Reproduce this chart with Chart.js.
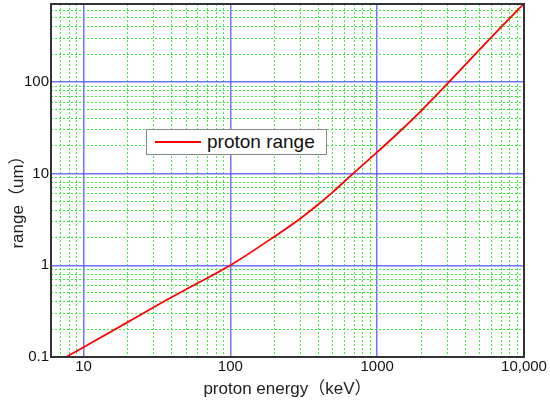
<!DOCTYPE html>
<html>
<head>
<meta charset="utf-8">
<script src="https://cdn.jsdelivr.net/npm/chart.js@4.4.1/dist/chart.umd.min.js"></script>
<style>
  body { margin: 0; background: #fff; }
  #wrap { position: relative; width: 550px; height: 403px; }
  #legend {
    position: absolute; left: 146px; top: 129px; width: 179px; height: 24px;
    border: 1px solid #888; background: #fff; box-sizing: content-box;
    font-family: "Liberation Sans", Arial, sans-serif; font-size: 19px; color: #111;
    display: flex; align-items: center;
  }
  #legend .swatch { display: inline-block; width: 46px; height: 0; border-top: 2px solid #ff0000; margin: 0 6px 0 8px; }
</style>
</head>
<body>
<div id="wrap">
  <canvas id="chart"></canvas>
  <div id="legend"><span class="swatch"></span><span>proton range</span></div>
</div>
<script>
// proton energy (keV) vs range (um)
var energy = [7.6, 10, 20, 40, 60, 100, 200, 300, 400, 500, 700, 1000, 1400, 2000, 3000, 5000, 7000, 10000];
var range  = [0.1, 0.128, 0.24, 0.45, 0.64, 1.0, 2.06, 3.24, 4.65, 6.32, 10.3, 17.1, 28.0, 48.6, 94.8, 226, 397, 713];

var xMin = 6, xMax = 10000;
var yMin = 0.1, yMax = 705;

// grid positions
var xGrid = [6, 7, 8, 9, 10, 20, 30, 40, 50, 60, 70, 80, 90, 100, 200, 300, 400, 500, 600, 700, 800, 900,
             1000, 2000, 3000, 4000, 5000, 6000, 7000, 8000, 9000, 10000];
var yGrid = [0.1, 0.2, 0.3, 0.4, 0.5, 0.6, 0.7, 0.8, 0.9, 1, 2, 3, 4, 5, 6, 7, 8, 9,
             10, 20, 30, 40, 50, 60, 70, 80, 90, 100, 200, 300, 400, 500, 600, 700];

// labelled ticks
var xTickValues = [10, 100, 1000, 10000];
var xTickLabels = ['10', '100', '1000', '10,000'];
var yTickValues = [0.1, 1, 10, 100];
var yTickLabels = ['0.1', '1', '10', '100'];

var FONT = '"Liberation Sans", Arial, "Noto Sans CJK SC", sans-serif';

function labelFor(values, labels, v) {
  for (var i = 0; i < values.length; i++) {
    if (Math.abs(values[i] - v) < 1e-9 * Math.max(1, v)) return labels[i];
  }
  return '';
}
function isDecade(v) {
  var l = Math.log10(v);
  return Math.abs(l - Math.round(l)) < 1e-6;
}
function gridColor(ctx) {
  if (!ctx.tick) return '#00e000';
  return isDecade(ctx.tick.value) ? 'rgba(90,90,255,0.85)' : 'rgba(40,235,40,0.9)';
}
function gridWidth(ctx) {
  if (!ctx.tick) return 1;
  return isDecade(ctx.tick.value) ? 1.5 : 1;
}
function gridDash(ctx) {
  if (!ctx.tick) return [];
  return isDecade(ctx.tick.value) ? [] : [2, 2];
}

var points = energy.map(function (e, i) { return { x: e, y: range[i] }; });

var framePlugin = {
  id: 'frame',
  afterDatasetsDraw: function (chart) {
    var a = chart.chartArea, c = chart.ctx;
    c.save();
    c.strokeStyle = '#333';
    c.lineWidth = 2;
    c.strokeRect(a.left, a.top, a.right - a.left, a.bottom - a.top);
    c.restore();
  }
};

var yTitlePlugin = {
  id: 'yTitle',
  afterDraw: function (chart) {
    var c = chart.ctx;
    c.save();
    c.translate(18, 198);
    c.rotate(-Math.PI / 2);
    c.font = '17px ' + FONT;
    c.fillStyle = '#222';
    c.textAlign = 'center';
    c.textBaseline = 'middle';
    c.fillText('range（um）', 0, 0);
    c.restore();
  }
};

new Chart(document.getElementById('chart'), {
  type: 'line',
  data: {
    datasets: [{
      label: 'proton range',
      data: points,
      borderColor: '#ff0000',
      borderWidth: 1.8,
      pointRadius: 0,
      fill: false,
      cubicInterpolationMode: 'monotone'
    }]
  },
  options: {
    responsive: true,
    maintainAspectRatio: false,
    animation: false,
    layout: { padding: { top: 4, right: 26, left: 0, bottom: 0 } },
    plugins: {
      legend: { display: false },
      tooltip: { enabled: false }
    },
    scales: {
      x: {
        type: 'logarithmic',
        min: xMin,
        max: xMax,
        afterBuildTicks: function (scale) {
          scale.ticks = xGrid.map(function (v) { return { value: v }; });
        },
        afterFit: function (scale) {
          scale.height = 46;
          scale.paddingLeft = 0;
          scale.paddingRight = 0;
        },
        ticks: {
          autoSkip: false,
          maxRotation: 0,
          padding: 1,
          color: '#111',
          font: { family: FONT, size: 15 },
          callback: function (v) { return labelFor(xTickValues, xTickLabels, v); }
        },
        grid: { color: gridColor, lineWidth: gridWidth, drawTicks: false },
        border: { display: false, dash: gridDash },
        title: {
          display: true,
          text: 'proton energy（keV）',
          color: '#222',
          font: { family: FONT, size: 17 },
          padding: { top: 0, bottom: 3 }
        }
      },
      y: {
        type: 'logarithmic',
        min: yMin,
        max: yMax,
        afterBuildTicks: function (scale) {
          scale.ticks = yGrid.map(function (v) { return { value: v }; });
        },
        afterFit: function (scale) {
          scale.width = 51;
          scale.paddingTop = 0;
          scale.paddingBottom = 0;
        },
        ticks: {
          autoSkip: false,
          padding: 2,
          color: '#111',
          font: { family: FONT, size: 15 },
          callback: function (v) { return labelFor(yTickValues, yTickLabels, v); }
        },
        grid: { color: gridColor, lineWidth: gridWidth, drawTicks: false },
        border: { display: false, dash: gridDash }
      }
    }
  },
  plugins: [framePlugin, yTitlePlugin]
});
</script>
</body>
</html>
